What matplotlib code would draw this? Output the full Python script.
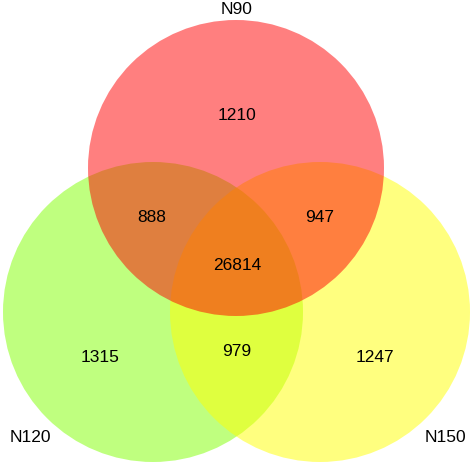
import matplotlib
matplotlib.use("Agg")
import matplotlib.pyplot as plt
from matplotlib.patches import Circle

plt.rcParams['font.family'] = ['Liberation Sans', 'DejaVu Sans']

sets = ["N90", "N120", "N150"]
region_labels = ["N90 only", "N90&N120", "N90&N150", "all", "N120 only", "N120&N150", "N150 only"]
region_counts = [1210, 888, 947, 26814, 1315, 979, 1247]

fig = plt.figure(figsize=(4.74, 4.67), dpi=100)
ax = fig.add_axes([0, 0, 1, 1])
ax.set_xlim(0, 474)
ax.set_ylim(467, 0)
ax.set_aspect('equal')
ax.axis('off')

circles = [((153, 312), 150, (0.5, 1.0, 0.0)),
           ((320, 312), 150, (1.0, 1.0, 0.0)),
           ((236, 168), 148, (1.0, 0.0, 0.0))]
for (c, r, col) in circles:
    ax.add_patch(Circle(c, r, facecolor=col, alpha=0.5, edgecolor='none'))

pos = [(237, 115), (152, 218), (320, 218), (237, 265), (100, 358), (237, 352), (375, 358)]
for (x, y), v in zip(pos, region_counts):
    ax.text(x, y, str(v), ha='center', va='center', fontsize=12.5, color='black')

label_pos = [(237, 10), (30, 438), (445, 438)]
for (x, y), s in zip(label_pos, sets):
    ax.text(x, y, s, ha='center', va='center', fontsize=12.5, color='black')

fig.savefig("out.png", dpi=100)
